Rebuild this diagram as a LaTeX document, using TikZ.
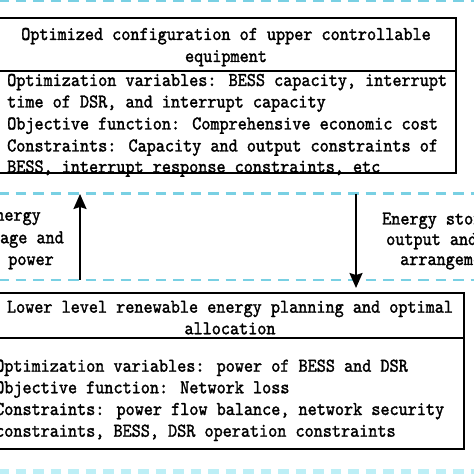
\documentclass[tikz,border=0pt]{standalone}
\usepackage{fontspec}
\newfontfamily\dfont{lmmono10-regular.otf}[FakeStretch=0.889,FakeBold=1.6]
\usetikzlibrary{arrows.meta}
\definecolor{dashc}{HTML}{79D0E3}
\definecolor{dashl}{HTML}{BDEFF6}
\begin{document}
\begin{tikzpicture}[x=1bp,y=-1bp,
  txt/.style={inner sep=0pt,font=\dfont\fontsize{19.5bp}{22bp}\selectfont},
  ctxt/.style={txt,anchor=base},
  ltxt/.style={txt,anchor=base west},
  rtxt/.style={txt,anchor=base east},
  boxnode/.style={draw=black,line width=1.7bp,inner sep=0pt},
  divider/.style={draw=black,line width=1.7bp},
  sep/.style={draw=dashc,line width=2.3bp,dash pattern=on 10.5bp off 7bp},
  flow/.style={draw=black,line width=2bp,-{Stealth[length=15bp,width=13bp,inset=2bp]}}
]
\useasboundingbox (0,0) rectangle (474,474);
\clip (0,0) rectangle (474,474);
\fill[white] (0,0) rectangle (474,474);

% separators
\coordinate (s1a) at (-2,1);   \coordinate (s1b) at (480,1);
\coordinate (s2a) at (-2,193.5); \coordinate (s2b) at (480,193.5);
\coordinate (s3a) at (-2,280); \coordinate (s3b) at (480,280);
\coordinate (s4a) at (-2,471.5); \coordinate (s4b) at (480,471.5);
\draw[sep] (s1a) -- (s1b);
\draw[sep] (s2a) -- (s2b);
\draw[sep] (s3a) -- (s3b);
\draw[sep,draw=dashl,line width=5bp] (s4a) -- (s4b);

% upper box
\node[boxnode,minimum width=460bp,minimum height=155bp] (upper) at (226,95.5) {};
\coordinate (ud) at (0,71);
\draw[divider] (upper.west |- ud) -- (upper.east |- ud);
\node[ctxt] (ut1) at (226,40) {Optimized configuration of upper controllable};
\node[ctxt] (ut2) at (226,62) {equipment};
\node[ltxt] (ub1) at (7,86) {Optimization variables: BESS capacity, interrupt};
\node[ltxt] (ub2) at (7,107.5) {time of DSR, and interrupt capacity};
\node[ltxt] (ub3) at (7,129.5) {Objective function: Comprehensive economic cost};
\node[ltxt] (ub4) at (7,151.5) {Constraints: Capacity and output constraints of};
\node[ltxt] (ub5) at (7,172.5) {BESS, interrupt response constraints, etc};

% lower box
\node[boxnode,minimum width=468bp,minimum height=156bp] (lower) at (230,371) {};
\coordinate (ld) at (0,338);
\draw[divider] (lower.west |- ld) -- (lower.east |- ld);
\node[ctxt] (lt1) at (230,312.7) {Lower level renewable energy planning and optimal};
\node[ctxt] (lt2) at (230,334.3) {allocation};
\node[ltxt] (lb1) at (-5,371.7) {Optimization variables: power of BESS and DSR};
\node[ltxt] (lb2) at (-5,393.3) {Objective function: Network loss};
\node[ltxt] (lb3) at (-5,415) {Constraints: power flow balance, network security};
\node[ltxt] (lb4) at (-5,436.7) {constraints, BESS, DSR operation constraints};

% arrows
\coordinate (upS) at (80,280);
\coordinate (upE) at (80,194);
\coordinate (dnS) at (356,194);
\coordinate (dnE) at (356,288);
\draw[flow] (upS) -- (upE);
\draw[flow] (dnS) -- (dnE);

% side labels
\node[rtxt] (la1) at (41,220.7) {Energy};
\node[rtxt] (la2) at (64,243.3) {storage and};
\node[rtxt] (la3) at (54,265) {power};
\node[ltxt] (ra1) at (382,224.5) {Energy storage};
\node[ltxt] (ra2) at (386,245) {output and};
\node[ltxt] (ra3) at (400,265) {arrangement};
\end{tikzpicture}
\end{document}
